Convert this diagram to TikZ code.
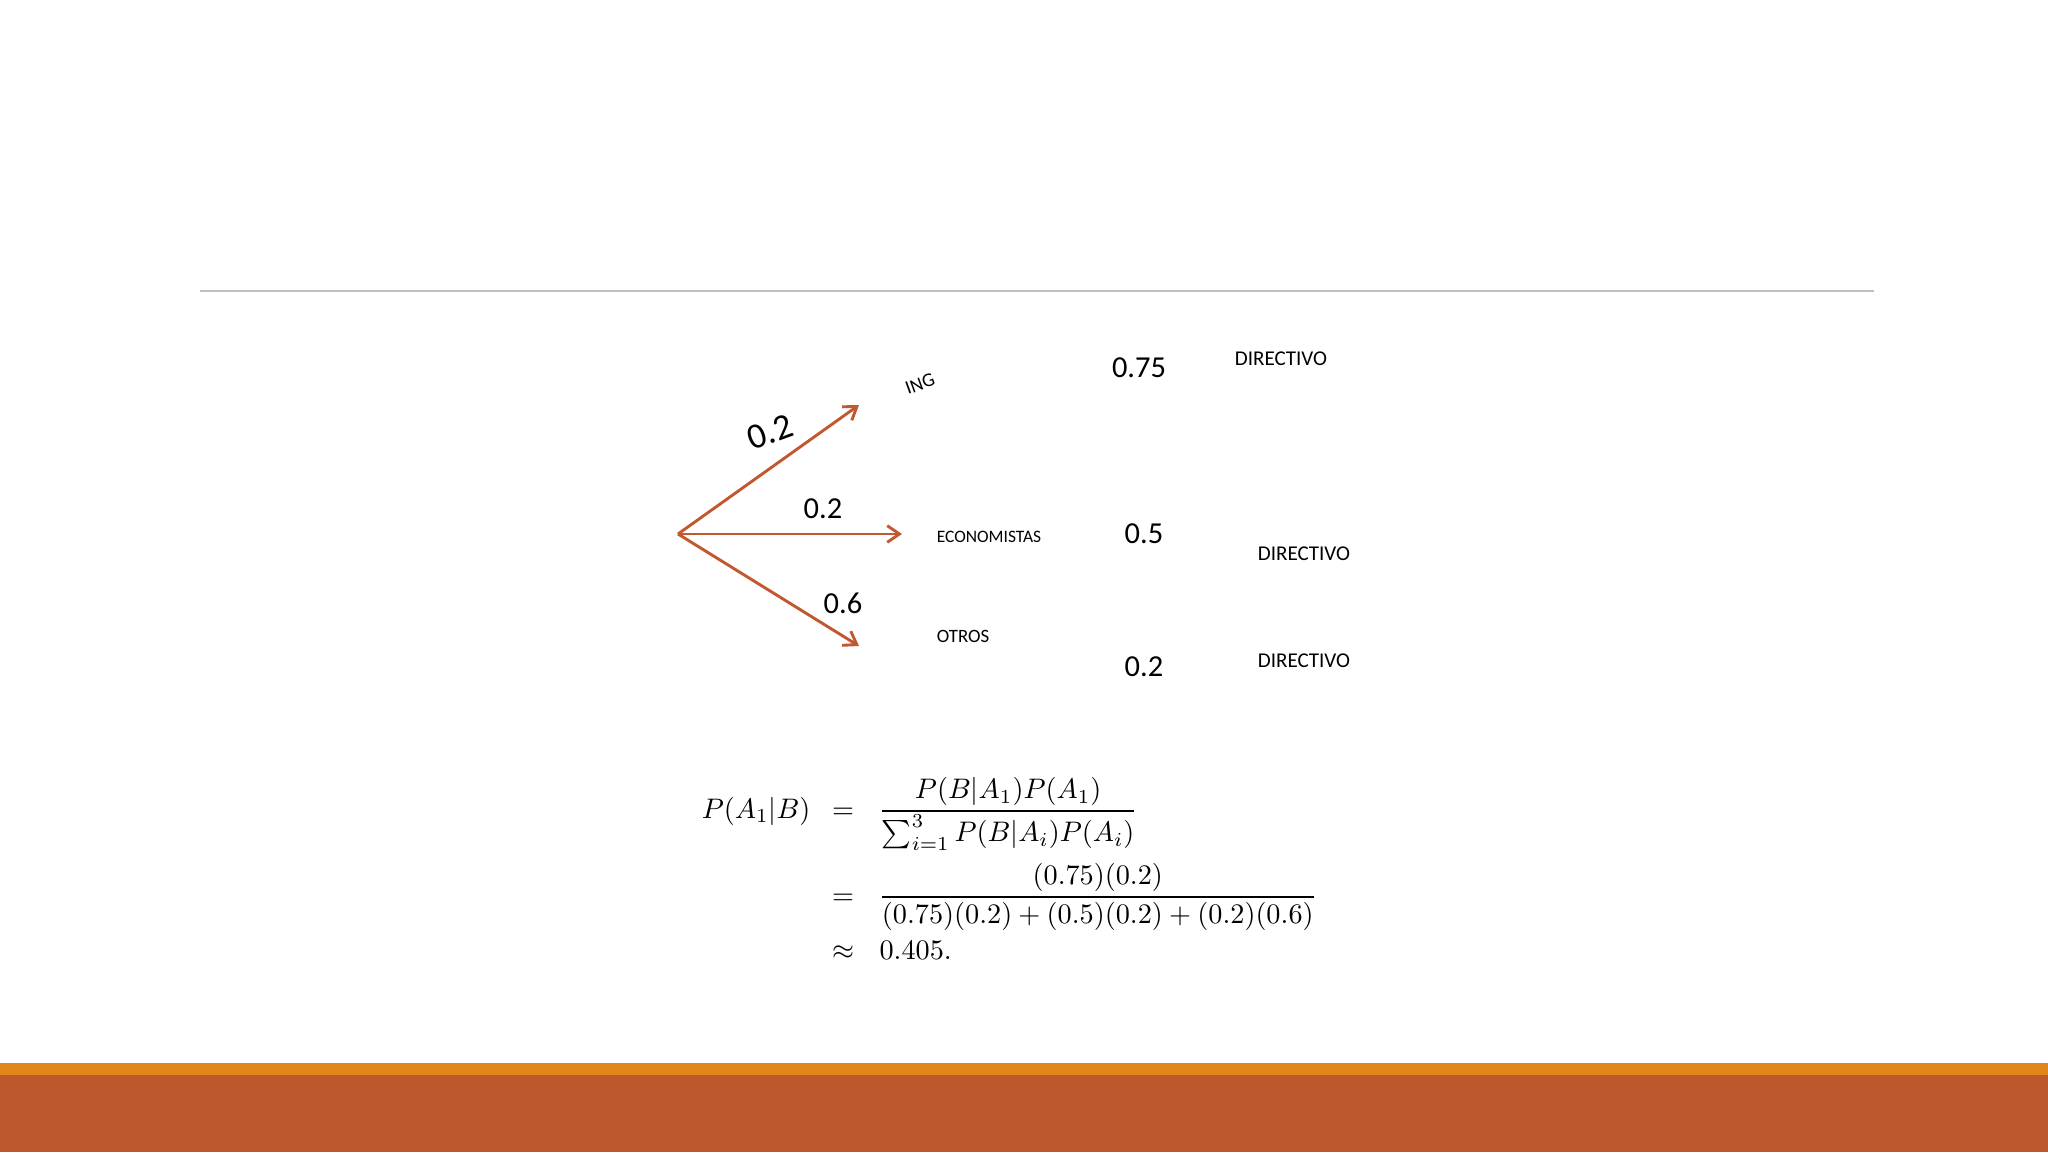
\documentclass[tikz,border=0pt]{standalone}
\usepackage{fontspec}
\newfontfamily\calibri{Carlito}
\usetikzlibrary{arrows.meta}
\definecolor{rust}{RGB}{194,88,48}
\definecolor{barorange}{RGB}{224,134,26}
\definecolor{barbrown}{RGB}{189,88,44}
\definecolor{rulegray}{RGB}{191,191,191}
\tikzset{
  branch/.style={draw=rust, line width=1.05pt, -{Straight Barb[length=4.4pt,width=6pt]}},
  lbl/.style={inner sep=0pt, font=\calibri\fontsize{#1}{#1}\selectfont},
  eqn/.style={inner sep=0pt},
}
\newcommand{\eqsize}[1]{\scalebox{1.02}{#1}}
\begin{document}
\begin{tikzpicture}[x=0.361pt, y=-0.361pt]
\useasboundingbox (0,0) rectangle (2048,1152);
% title rule
\draw[rulegray, line width=0.7pt] (200,291) -- (1874,291);
% footer bars
\fill[barorange] (0,1063) rectangle (2048,1075);
\fill[barbrown] (0,1075) rectangle (2048,1152);
% tree
\coordinate (root) at (678,534);
\coordinate (ing) at (859,405);
\coordinate (eco) at (902,534);
\coordinate (otr) at (859,646);
\draw[branch] (root) -- (ing);
\draw[branch] (root) -- (eco);
\draw[branch] (root) -- (otr);
% branch labels
\node[lbl=13, rotate=20] (p1) at (770,432) {0.2};
\node[lbl=11] (p2) at (823,509) {0.2};
\node[lbl=11] (p3) at (843,603) {0.6};
% groups
\node[lbl=7, rotate=20] (ingname) at (920,384) {ING};
\node[lbl=6.3] (econame) at (989,537) {ECONOMISTAS};
\node[lbl=6.8] (otrname) at (963,636) {OTROS};
% second level
\node[lbl=11] (q1) at (1139,368) {0.75};
\node[lbl=11] (q2) at (1144,534) {0.5};
\node[lbl=11] (q3) at (1144,667) {0.2};
\node[lbl=7.6] (d1) at (1281,359) {DIRECTIVO};
\node[lbl=7.6] (d2) at (1304,554) {DIRECTIVO};
\node[lbl=7.6] (d3) at (1304,661) {DIRECTIVO};
% formula
\node[eqn, anchor=base east] (lhs) at (811,818) {\eqsize{$P(A_1|B)$}};
\node[eqn, anchor=base] (eq1) at (843,818) {\eqsize{$=$}};
\node[eqn, anchor=base west] (rhs1) at (878,818)
  {\eqsize{$\displaystyle\frac{P(B|A_1)P(A_1)}{\sum_{i=1}^{3}P(B|A_i)P(A_i)}$}};
\node[eqn, anchor=base] (eq2) at (843,904) {\eqsize{$=$}};
\node[eqn, anchor=base west] (rhs2) at (878,904)
  {\eqsize{$\displaystyle\frac{(0.75)(0.2)}{(0.75)(0.2)+(0.5)(0.2)+(0.2)(0.6)}$}};
\node[eqn, anchor=base] (eq3) at (843,959) {\eqsize{$\approx$}};
\node[eqn, anchor=base west] (rhs3) at (879,959) {\eqsize{$0.405.$}};
\end{tikzpicture}
\end{document}
